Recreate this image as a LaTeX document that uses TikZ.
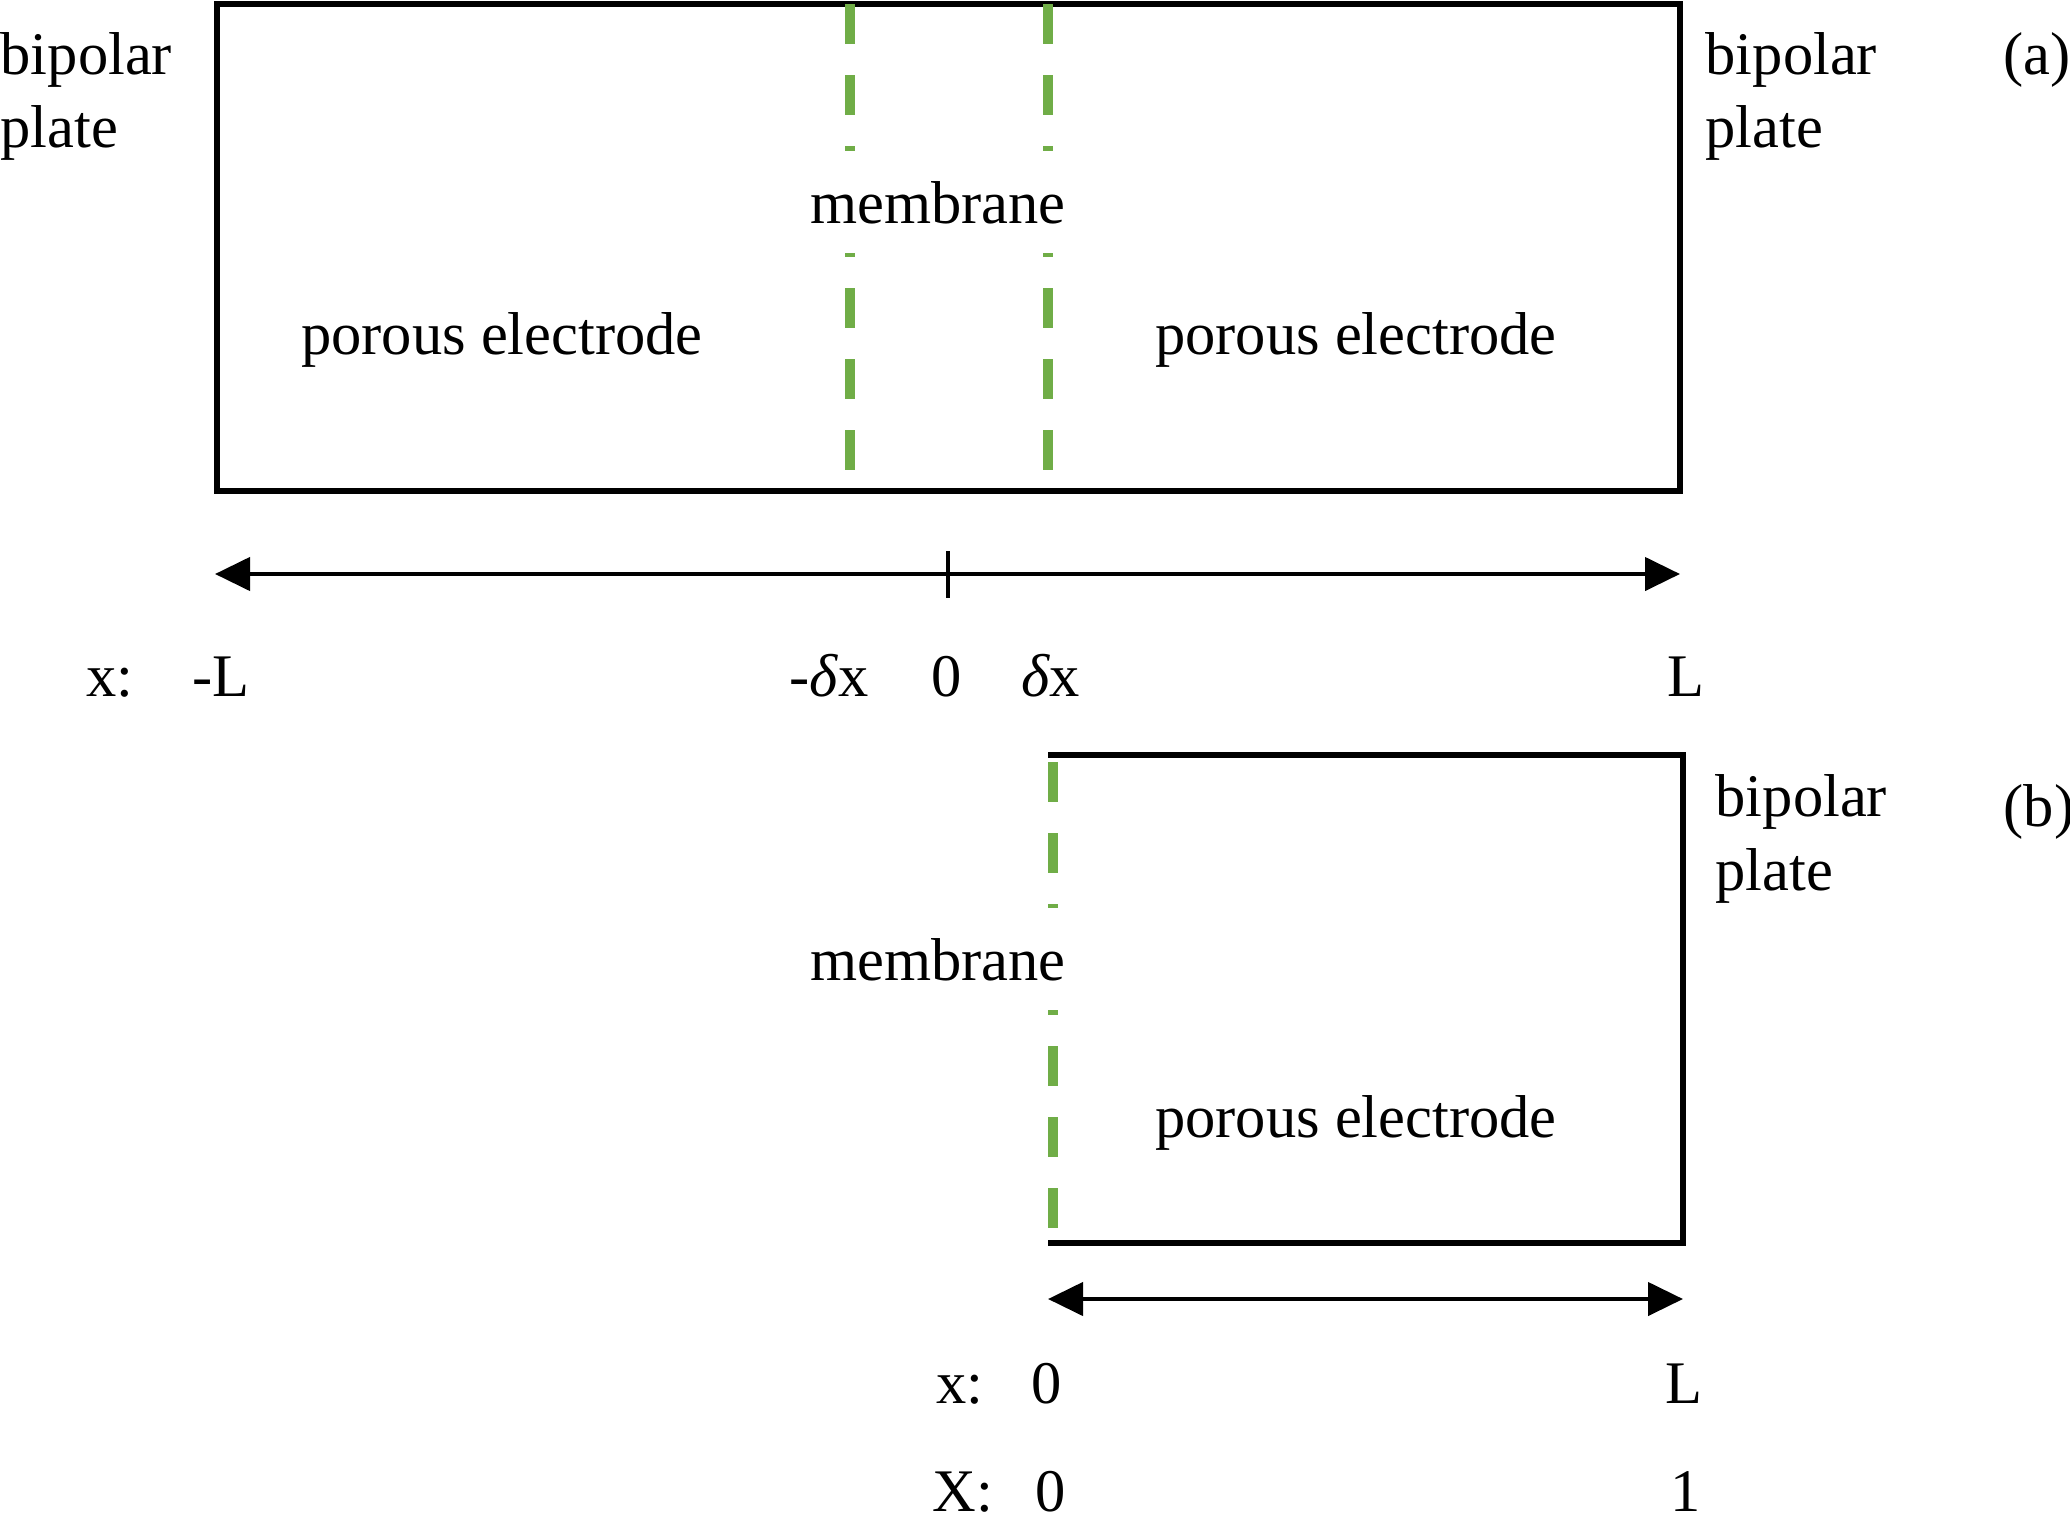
\documentclass[tikz,border=0pt]{standalone}
\usepackage{fontspec}
\setmainfont{Liberation Serif}
\usetikzlibrary{arrows.meta}
\definecolor{memgreen}{HTML}{70AD47}
\begin{document}
\begin{tikzpicture}[x=0.01cm,y=-0.01cm,
  txt/.style={inner sep=0pt,font=\fontsize{17.2pt}{21pt}\selectfont},
  lbl/.style={txt,anchor=base},
  lblw/.style={txt,anchor=base west},
  memlbl/.style={txt,anchor=base,fill=white,inner xsep=2pt,inner ysep=8.5pt},
  frame/.style={line width=1.9pt,line join=miter},
  memline/.style={draw=memgreen,line width=2.85pt,dash pattern=on 4mm off 3.1mm},
  axis/.style={line width=1.25pt,{Triangle[length=3.5mm,width=3.3mm]}-{Triangle[length=3.5mm,width=3.3mm]}},
  tickmark/.style={line width=1.25pt}]
\useasboundingbox (0,0) rectangle (2070,1518);

% ---------- (a) ----------
\draw[frame] (217,4) rectangle (1680,491);
\draw[memline] (850,4) -- (850,491);
\draw[memline] (1048,4) -- (1048,491);
\node[memlbl] (memA) at (938,223) {membrane};
\node[lbl] (peA1) at (502,354) {porous electrode};
\node[lbl] (peA2) at (1356,354) {porous electrode};
\node[lblw] (bpA1) at (0,74) {bipolar};
\node[lblw] (bpA2) at (0,147) {plate};
\node[lblw] (bpA3) at (1705,74) {bipolar};
\node[lblw] (bpA4) at (1705,147) {plate};
\node[lblw] (tagA) at (2003,74) {(a)};

\coordinate (axAl) at (215,574);
\coordinate (axAr) at (1680,574);
\draw[axis] (axAl) -- (axAr);
\coordinate (tkA1) at (948,551);
\coordinate (tkA2) at (948,598);
\draw[tickmark] (tkA1) -- (tkA2);

\node[lbl] (xA) at (110,696) {x:};
\node[lbl] (mL) at (221,696) {-L};
\node[lbl] (mdx) at (829,696) {-{\itshape δ}x};
\node[lbl] (zA) at (947,696) {0};
\node[lbl] (pdx) at (1051,696) {{\itshape δ}x};
\node[lbl] (LA) at (1686,696) {L};

% ---------- (b) ----------
\draw[frame] (1048,755) -- (1683,755) -- (1683,1243) -- (1048,1243);
\draw[memline] (1053,762) -- (1053,1243);
\node[memlbl] (memB) at (938,980) {membrane};
\node[lbl] (peB) at (1356,1137) {porous electrode};
\node[lblw] (bpB1) at (1715,816) {bipolar};
\node[lblw] (bpB2) at (1715,890) {plate};
\node[lblw] (tagB) at (2003,826) {(b)};

\coordinate (axBl) at (1048,1299);
\coordinate (axBr) at (1683,1299);
\draw[axis] (axBl) -- (axBr);

\node[lbl] (xB) at (960,1403) {x:};
\node[lbl] (zB) at (1047,1403) {0};
\node[lbl] (LB) at (1684,1403) {L};
\node[lbl] (XB) at (963,1511) {X:};
\node[lbl] (zX) at (1051,1511) {0};
\node[lbl] (oneX) at (1686,1511) {1};
\end{tikzpicture}
\end{document}
